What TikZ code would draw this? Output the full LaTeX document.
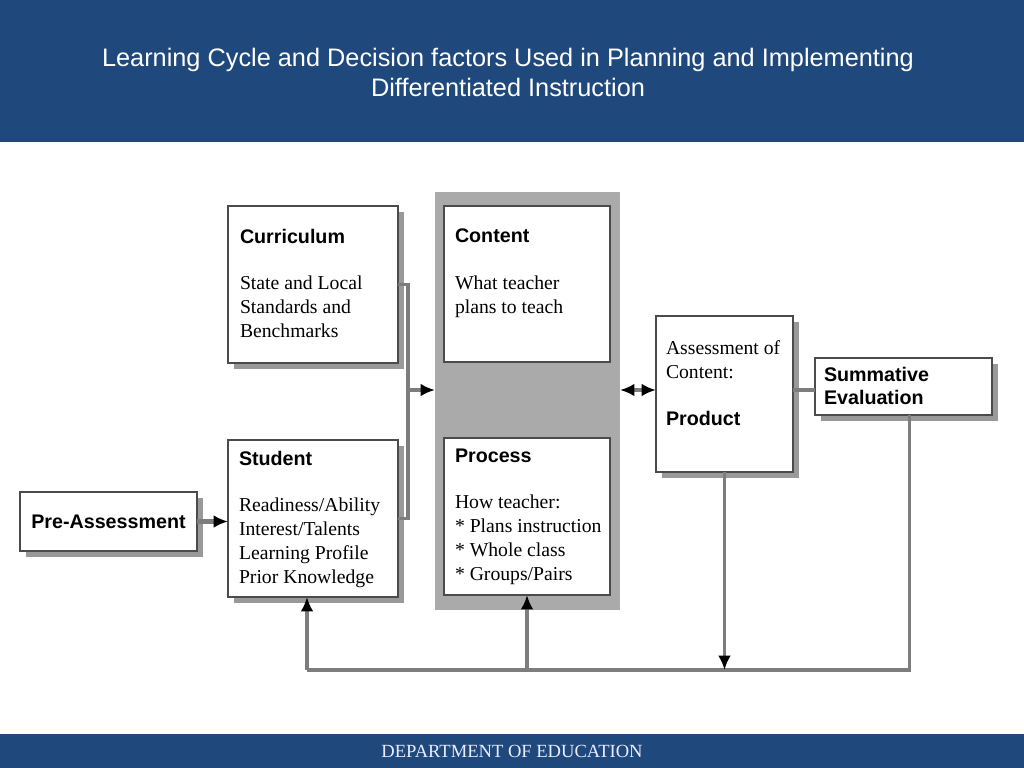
\documentclass[tikz,border=0pt]{standalone}
\usepackage{fontspec}
\setmainfont{Liberation Serif}
\setsansfont{Liberation Sans}
\usetikzlibrary{arrows.meta,shadows}
\definecolor{slideblue}{RGB}{31,73,125}
\definecolor{linegray}{RGB}{125,125,125}
\definecolor{panelgray}{RGB}{170,170,170}
\definecolor{framegray}{RGB}{75,75,75}
\newcommand{\boxhead}[1]{{\sffamily\bfseries #1}}

\begin{document}
\begin{tikzpicture}[x=0.025cm,y=-0.025cm,every node/.style={outer sep=0pt},
  box/.style={draw=framegray,line width=1.4pt,fill=white,inner sep=0pt},
  shade/.style={drop shadow={shadow xshift=0.16cm,shadow yshift=-0.16cm,fill=black!40,opacity=1}},
  txt/.style={anchor=north west,inner sep=0pt,align=left,font=\fontsize{14}{17}\selectfont},
  flow/.style={draw=linegray,line width=2.2pt},
  tip/.style={-{Latex[black,length=0.36cm,width=0.32cm]}}]

\useasboundingbox (0,0) rectangle (1024,768);

% slide bars
\fill[slideblue] (0,0) rectangle (1024,142);
\fill[slideblue] (0,734) rectangle (1024,768);
\node[text=white,align=center,font=\sffamily\fontsize{18}{21.3}\selectfont] (title) at (508,72)
  {Learning Cycle and Decision factors Used in Planning and Implementing\\Differentiated Instruction};
\node[text=white!92!blue,font=\fontsize{13.2}{15}\selectfont] (dept) at (512,751) {DEPARTMENT OF EDUCATION};

% boxes
\node[fill=panelgray,minimum width=4.625cm,minimum height=10.45cm] (panel) at (527.5,401) {};
\node[box,shade,minimum width=4.25cm,minimum height=3.925cm] (curr) at (313,284.5) {};
\node[box,shade,minimum width=4.25cm,minimum height=3.925cm] (stud) at (313,518.5) {};
\node[box,shade,minimum width=4.425cm,minimum height=1.475cm,font=\sffamily\bfseries\fontsize{14}{17}\selectfont] (pre) at (108.5,521.5) {Pre-Assessment};
\node[box,minimum width=4.15cm,minimum height=3.9cm] (cont) at (527,284) {};
\node[box,minimum width=4.15cm,minimum height=3.925cm] (proc) at (527,516.5) {};
\node[box,shade,minimum width=3.425cm,minimum height=3.9cm] (prod) at (724.5,394) {};
\node[box,shade,minimum width=4.425cm,minimum height=1.425cm] (summ) at (903.5,386.5) {};

% box texts
\node[txt] (currtxt) at (240,229) {\boxhead{Curriculum}\\[16pt]State and Local\\Standards and\\Benchmarks};
\node[txt] (studtxt) at (239,451) {\boxhead{Student}\\[16pt]Readiness/Ability\\Interest/Talents\\Learning Profile\\Prior Knowledge};
\node[txt] (conttxt) at (455,229) {\boxhead{Content}\\[16pt]What teacher\\plans to teach};
\node[txt] (proctxt) at (455,449) {\boxhead{Process}\\[16pt]How teacher:\\* Plans instruction\\* Whole class\\* Groups/Pairs};
\node[txt] (prodtxt) at (666,341) {Assessment of\\Content:\\[16pt]\boxhead{Product}};
\node[txt,font=\sffamily\bfseries\fontsize{14}{16.3}\selectfont] (summtxt) at (824,367) {Summative\\Evaluation};

% connectors
\coordinate (join) at (408,390);
\coordinate (base) at (0,670);
\draw[flow] (curr.east) -| (join) |- (stud.east);
\draw[flow,tip] (join) -- (join -| panel.west);
\draw[flow,line width=3.5pt,tip] (pre.east) -- (pre.east -| stud.west);
\draw[flow,{Latex[black,length=0.36cm,width=0.32cm]}-{Latex[black,length=0.36cm,width=0.32cm]}] (panel.east |- join) -- (join -| prod.west);
\draw[flow] (prod.east |- join) -- (join -| summ.west);
\draw[flow] ([xshift=0.16cm]summ.south) |- ([xshift=-0.15cm]stud.south |- base);
\draw[flow,tip] ([xshift=-0.15cm]stud.south |- base) -- ([xshift=-0.15cm]stud.south);
\draw[flow,tip] (proc.south |- base) -- (proc.south);
\draw[flow,tip] (prod.south) -- (prod.south |- base);
\end{tikzpicture}
\end{document}
